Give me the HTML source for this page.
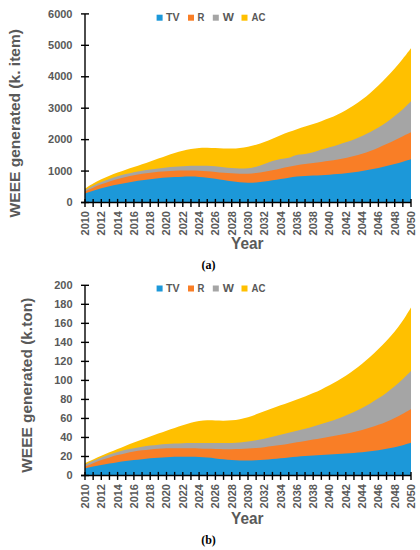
<!DOCTYPE html>
<html><head><meta charset="utf-8"><style>
html,body{margin:0;padding:0;background:#fff;width:420px;height:550px;overflow:hidden}
svg{display:block}
.tk{font-family:"Liberation Sans",sans-serif;font-size:11px;font-weight:bold;fill:#595959}
.ti2{font-family:"Liberation Sans",sans-serif;font-size:15.8px;font-weight:bold;fill:#595959}
.ti{font-family:"Liberation Sans",sans-serif;font-size:15.5px;font-weight:bold;fill:#595959}
.lg{font-family:"Liberation Sans",sans-serif;font-size:10px;font-weight:bold;fill:#595959}
.lt{font-family:"Liberation Serif",serif;font-size:12px;font-weight:bold;fill:#000}
</style></head><body>
<svg width="420" height="550" viewBox="0 0 420 550">
<path d="M85.00,202.5 L85.00,188.60 C86.36,187.75 90.43,185.08 93.15,183.53 C95.87,181.97 98.58,180.59 101.30,179.28 C104.02,177.97 106.73,176.80 109.45,175.68 C112.17,174.56 114.88,173.54 117.60,172.55 C120.32,171.56 123.03,170.64 125.75,169.72 C128.47,168.80 131.18,167.93 133.90,167.03 C136.62,166.12 139.33,165.22 142.05,164.29 C144.77,163.36 147.48,162.39 150.20,161.43 C152.92,160.47 155.63,159.48 158.35,158.53 C161.07,157.58 163.78,156.63 166.50,155.72 C169.22,154.82 171.93,153.93 174.65,153.11 C177.37,152.29 180.08,151.49 182.80,150.81 C185.52,150.12 188.23,149.47 190.95,148.99 C193.67,148.50 196.38,148.11 199.10,147.90 C201.82,147.69 204.53,147.69 207.25,147.72 C209.97,147.75 212.68,147.97 215.40,148.10 C218.12,148.24 220.83,148.46 223.55,148.53 C226.27,148.60 228.98,148.62 231.70,148.52 C234.42,148.42 237.13,148.22 239.85,147.91 C242.57,147.60 245.28,147.19 248.00,146.65 C250.72,146.12 253.43,145.47 256.15,144.70 C258.87,143.93 261.58,143.01 264.30,142.03 C267.02,141.04 269.73,139.90 272.45,138.79 C275.17,137.67 277.88,136.46 280.60,135.33 C283.32,134.20 286.03,133.05 288.75,132.02 C291.47,130.99 294.18,130.05 296.90,129.14 C299.62,128.23 302.33,127.42 305.05,126.56 C307.77,125.70 310.48,124.88 313.20,123.98 C315.92,123.08 318.63,122.17 321.35,121.18 C324.07,120.19 326.78,119.15 329.50,118.03 C332.22,116.90 334.93,115.71 337.65,114.40 C340.37,113.09 343.08,111.71 345.80,110.19 C348.52,108.66 351.23,107.04 353.95,105.26 C356.67,103.48 359.38,101.57 362.10,99.52 C364.82,97.46 367.53,95.27 370.25,92.94 C372.97,90.61 375.68,88.15 378.40,85.55 C381.12,82.96 383.83,80.23 386.55,77.37 C389.27,74.52 391.98,71.53 394.70,68.42 C397.42,65.30 400.13,62.06 402.85,58.70 C405.57,55.34 409.64,49.99 411.00,48.25 L411.00,202.5 Z" fill="#ffc000"/>
<path d="M85.00,202.5 L85.00,190.03 C86.36,189.32 90.43,187.07 93.15,185.74 C95.87,184.41 98.58,183.19 101.30,182.04 C104.02,180.90 106.73,179.86 109.45,178.90 C112.17,177.93 114.88,177.05 117.60,176.24 C120.32,175.43 123.03,174.70 125.75,174.02 C128.47,173.35 131.18,172.75 133.90,172.19 C136.62,171.63 139.33,171.14 142.05,170.68 C144.77,170.23 147.48,169.83 150.20,169.45 C152.92,169.08 155.63,168.75 158.35,168.44 C161.07,168.14 163.78,167.86 166.50,167.60 C169.22,167.34 171.93,167.10 174.65,166.87 C177.37,166.65 180.08,166.44 182.80,166.27 C185.52,166.10 188.23,165.96 190.95,165.86 C193.67,165.76 196.38,165.69 199.10,165.69 C201.82,165.69 204.53,165.72 207.25,165.83 C209.97,165.94 212.68,166.12 215.40,166.35 C218.12,166.57 220.83,166.91 223.55,167.20 C226.27,167.49 228.98,167.84 231.70,168.07 C234.42,168.29 237.13,168.51 239.85,168.54 C242.57,168.56 245.28,168.52 248.00,168.21 C250.72,167.90 253.43,167.40 256.15,166.69 C258.87,165.98 261.58,164.90 264.30,163.95 C267.02,163.00 269.73,161.82 272.45,160.98 C275.17,160.14 277.88,159.48 280.60,158.93 C283.32,158.37 286.03,158.32 288.75,157.65 C291.47,156.98 294.18,155.51 296.90,154.89 C299.62,154.28 302.33,154.40 305.05,153.97 C307.77,153.54 310.48,153.07 313.20,152.32 C315.92,151.58 318.63,150.36 321.35,149.50 C324.07,148.65 326.78,147.95 329.50,147.18 C332.22,146.42 334.93,145.71 337.65,144.91 C340.37,144.10 343.08,143.26 345.80,142.34 C348.52,141.42 351.23,140.45 353.95,139.39 C356.67,138.33 359.38,137.20 362.10,135.97 C364.82,134.74 367.53,133.44 370.25,132.01 C372.97,130.59 375.68,129.07 378.40,127.43 C381.12,125.78 383.83,124.03 386.55,122.14 C389.27,120.25 391.98,118.24 394.70,116.07 C397.42,113.91 400.13,111.61 402.85,109.14 C405.57,106.68 409.64,102.58 411.00,101.27 L411.00,202.5 Z" fill="#a5a5a5"/>
<path d="M85.00,202.5 L85.00,191.40 C86.36,190.77 90.43,188.81 93.15,187.63 C95.87,186.45 98.58,185.36 101.30,184.33 C104.02,183.30 106.73,182.36 109.45,181.47 C112.17,180.59 114.88,179.77 117.60,179.02 C120.32,178.26 123.03,177.58 125.75,176.94 C128.47,176.31 131.18,175.74 133.90,175.21 C136.62,174.69 139.33,174.23 142.05,173.80 C144.77,173.38 147.48,173.01 150.20,172.68 C152.92,172.35 155.63,172.06 158.35,171.81 C161.07,171.56 163.78,171.35 166.50,171.17 C169.22,170.99 171.93,170.84 174.65,170.73 C177.37,170.61 180.08,170.52 182.80,170.48 C185.52,170.43 188.23,170.42 190.95,170.45 C193.67,170.49 196.38,170.56 199.10,170.68 C201.82,170.80 204.53,170.97 207.25,171.17 C209.97,171.37 212.68,171.64 215.40,171.89 C218.12,172.14 220.83,172.43 223.55,172.67 C226.27,172.92 228.98,173.17 231.70,173.35 C234.42,173.53 237.13,173.69 239.85,173.74 C242.57,173.80 245.28,173.80 248.00,173.67 C250.72,173.55 253.43,173.31 256.15,173.00 C258.87,172.68 261.58,172.25 264.30,171.79 C267.02,171.32 269.73,170.77 272.45,170.22 C275.17,169.67 277.88,169.07 280.60,168.49 C283.32,167.92 286.03,167.32 288.75,166.78 C291.47,166.25 294.18,165.73 296.90,165.28 C299.62,164.82 302.33,164.44 305.05,164.06 C307.77,163.68 310.48,163.36 313.20,163.01 C315.92,162.67 318.63,162.35 321.35,161.99 C324.07,161.63 326.78,161.27 329.50,160.86 C332.22,160.45 334.93,160.01 337.65,159.52 C340.37,159.02 343.08,158.50 345.80,157.91 C348.52,157.32 351.23,156.68 353.95,155.97 C356.67,155.27 359.38,154.51 362.10,153.66 C364.82,152.82 367.53,151.91 370.25,150.92 C372.97,149.92 375.68,148.84 378.40,147.69 C381.12,146.54 383.83,145.29 386.55,144.03 C389.27,142.77 391.98,141.44 394.70,140.13 C397.42,138.81 400.13,137.46 402.85,136.16 C405.57,134.85 409.64,132.95 411.00,132.31 L411.00,202.5 Z" fill="#f97e26"/>
<path d="M85.00,202.5 L85.00,193.40 C86.36,192.95 90.43,191.55 93.15,190.71 C95.87,189.87 98.58,189.09 101.30,188.36 C104.02,187.63 106.73,186.95 109.45,186.31 C112.17,185.68 114.88,185.09 117.60,184.53 C120.32,183.97 123.03,183.45 125.75,182.96 C128.47,182.47 131.18,182.01 133.90,181.57 C136.62,181.13 139.33,180.71 142.05,180.31 C144.77,179.92 147.48,179.55 150.20,179.21 C152.92,178.87 155.63,178.55 158.35,178.27 C161.07,177.99 163.78,177.73 166.50,177.51 C169.22,177.29 171.93,177.10 174.65,176.95 C177.37,176.80 180.08,176.69 182.80,176.63 C185.52,176.57 188.23,176.55 190.95,176.60 C193.67,176.65 196.38,176.75 199.10,176.93 C201.82,177.10 204.53,177.35 207.25,177.66 C209.97,177.97 212.68,178.37 215.40,178.77 C218.12,179.17 220.83,179.63 223.55,180.05 C226.27,180.47 228.98,180.92 231.70,181.28 C234.42,181.64 237.13,182.00 239.85,182.23 C242.57,182.46 245.28,182.64 248.00,182.68 C250.72,182.72 253.43,182.62 256.15,182.44 C258.87,182.26 261.58,181.94 264.30,181.60 C267.02,181.25 269.73,180.80 272.45,180.37 C275.17,179.93 277.88,179.43 280.60,178.98 C283.32,178.53 286.03,178.05 288.75,177.65 C291.47,177.26 294.18,176.89 296.90,176.61 C299.62,176.33 302.33,176.14 305.05,175.96 C307.77,175.78 310.48,175.67 313.20,175.55 C315.92,175.42 318.63,175.33 321.35,175.20 C324.07,175.07 326.78,174.93 329.50,174.75 C332.22,174.57 334.93,174.36 337.65,174.12 C340.37,173.87 343.08,173.60 345.80,173.29 C348.52,172.98 351.23,172.64 353.95,172.26 C356.67,171.89 359.38,171.48 362.10,171.03 C364.82,170.59 367.53,170.11 370.25,169.60 C372.97,169.09 375.68,168.54 378.40,167.96 C381.12,167.38 383.83,166.76 386.55,166.11 C389.27,165.46 391.98,164.77 394.70,164.04 C397.42,163.32 400.13,162.55 402.85,161.75 C405.57,160.95 409.64,159.66 411.00,159.24 L411.00,202.5 Z" fill="#1c98d9"/>
<line x1="85.0" y1="13.9" x2="85.0" y2="202.5" stroke="#000" stroke-width="1.4"/>
<line x1="81.0" y1="202.5" x2="411.0" y2="202.5" stroke="#000" stroke-width="1.4"/>
<line x1="81.0" y1="202.50" x2="89.0" y2="202.50" stroke="#000" stroke-width="1.4"/>
<text x="72.5" y="206.10" text-anchor="end" class="tk">0</text>
<line x1="81.0" y1="171.07" x2="89.0" y2="171.07" stroke="#000" stroke-width="1.4"/>
<text x="72.5" y="174.67" text-anchor="end" class="tk">1000</text>
<line x1="81.0" y1="139.63" x2="89.0" y2="139.63" stroke="#000" stroke-width="1.4"/>
<text x="72.5" y="143.23" text-anchor="end" class="tk">2000</text>
<line x1="81.0" y1="108.20" x2="89.0" y2="108.20" stroke="#000" stroke-width="1.4"/>
<text x="72.5" y="111.80" text-anchor="end" class="tk">3000</text>
<line x1="81.0" y1="76.77" x2="89.0" y2="76.77" stroke="#000" stroke-width="1.4"/>
<text x="72.5" y="80.37" text-anchor="end" class="tk">4000</text>
<line x1="81.0" y1="45.33" x2="89.0" y2="45.33" stroke="#000" stroke-width="1.4"/>
<text x="72.5" y="48.93" text-anchor="end" class="tk">5000</text>
<line x1="81.0" y1="13.90" x2="89.0" y2="13.90" stroke="#000" stroke-width="1.4"/>
<text x="72.5" y="17.50" text-anchor="end" class="tk">6000</text>
<line x1="85.00" y1="198.9" x2="85.00" y2="206.9" stroke="#000" stroke-width="1.4"/>
<text transform="translate(88.90,211.0) rotate(-90)" text-anchor="end" class="tk">2010</text>
<line x1="93.15" y1="198.9" x2="93.15" y2="206.9" stroke="#000" stroke-width="1.4"/>
<line x1="101.30" y1="198.9" x2="101.30" y2="206.9" stroke="#000" stroke-width="1.4"/>
<text transform="translate(105.20,211.0) rotate(-90)" text-anchor="end" class="tk">2012</text>
<line x1="109.45" y1="198.9" x2="109.45" y2="206.9" stroke="#000" stroke-width="1.4"/>
<line x1="117.60" y1="198.9" x2="117.60" y2="206.9" stroke="#000" stroke-width="1.4"/>
<text transform="translate(121.50,211.0) rotate(-90)" text-anchor="end" class="tk">2014</text>
<line x1="125.75" y1="198.9" x2="125.75" y2="206.9" stroke="#000" stroke-width="1.4"/>
<line x1="133.90" y1="198.9" x2="133.90" y2="206.9" stroke="#000" stroke-width="1.4"/>
<text transform="translate(137.80,211.0) rotate(-90)" text-anchor="end" class="tk">2016</text>
<line x1="142.05" y1="198.9" x2="142.05" y2="206.9" stroke="#000" stroke-width="1.4"/>
<line x1="150.20" y1="198.9" x2="150.20" y2="206.9" stroke="#000" stroke-width="1.4"/>
<text transform="translate(154.10,211.0) rotate(-90)" text-anchor="end" class="tk">2018</text>
<line x1="158.35" y1="198.9" x2="158.35" y2="206.9" stroke="#000" stroke-width="1.4"/>
<line x1="166.50" y1="198.9" x2="166.50" y2="206.9" stroke="#000" stroke-width="1.4"/>
<text transform="translate(170.40,211.0) rotate(-90)" text-anchor="end" class="tk">2020</text>
<line x1="174.65" y1="198.9" x2="174.65" y2="206.9" stroke="#000" stroke-width="1.4"/>
<line x1="182.80" y1="198.9" x2="182.80" y2="206.9" stroke="#000" stroke-width="1.4"/>
<text transform="translate(186.70,211.0) rotate(-90)" text-anchor="end" class="tk">2022</text>
<line x1="190.95" y1="198.9" x2="190.95" y2="206.9" stroke="#000" stroke-width="1.4"/>
<line x1="199.10" y1="198.9" x2="199.10" y2="206.9" stroke="#000" stroke-width="1.4"/>
<text transform="translate(203.00,211.0) rotate(-90)" text-anchor="end" class="tk">2024</text>
<line x1="207.25" y1="198.9" x2="207.25" y2="206.9" stroke="#000" stroke-width="1.4"/>
<line x1="215.40" y1="198.9" x2="215.40" y2="206.9" stroke="#000" stroke-width="1.4"/>
<text transform="translate(219.30,211.0) rotate(-90)" text-anchor="end" class="tk">2026</text>
<line x1="223.55" y1="198.9" x2="223.55" y2="206.9" stroke="#000" stroke-width="1.4"/>
<line x1="231.70" y1="198.9" x2="231.70" y2="206.9" stroke="#000" stroke-width="1.4"/>
<text transform="translate(235.60,211.0) rotate(-90)" text-anchor="end" class="tk">2028</text>
<line x1="239.85" y1="198.9" x2="239.85" y2="206.9" stroke="#000" stroke-width="1.4"/>
<line x1="248.00" y1="198.9" x2="248.00" y2="206.9" stroke="#000" stroke-width="1.4"/>
<text transform="translate(251.90,211.0) rotate(-90)" text-anchor="end" class="tk">2030</text>
<line x1="256.15" y1="198.9" x2="256.15" y2="206.9" stroke="#000" stroke-width="1.4"/>
<line x1="264.30" y1="198.9" x2="264.30" y2="206.9" stroke="#000" stroke-width="1.4"/>
<text transform="translate(268.20,211.0) rotate(-90)" text-anchor="end" class="tk">2032</text>
<line x1="272.45" y1="198.9" x2="272.45" y2="206.9" stroke="#000" stroke-width="1.4"/>
<line x1="280.60" y1="198.9" x2="280.60" y2="206.9" stroke="#000" stroke-width="1.4"/>
<text transform="translate(284.50,211.0) rotate(-90)" text-anchor="end" class="tk">2034</text>
<line x1="288.75" y1="198.9" x2="288.75" y2="206.9" stroke="#000" stroke-width="1.4"/>
<line x1="296.90" y1="198.9" x2="296.90" y2="206.9" stroke="#000" stroke-width="1.4"/>
<text transform="translate(300.80,211.0) rotate(-90)" text-anchor="end" class="tk">2036</text>
<line x1="305.05" y1="198.9" x2="305.05" y2="206.9" stroke="#000" stroke-width="1.4"/>
<line x1="313.20" y1="198.9" x2="313.20" y2="206.9" stroke="#000" stroke-width="1.4"/>
<text transform="translate(317.10,211.0) rotate(-90)" text-anchor="end" class="tk">2038</text>
<line x1="321.35" y1="198.9" x2="321.35" y2="206.9" stroke="#000" stroke-width="1.4"/>
<line x1="329.50" y1="198.9" x2="329.50" y2="206.9" stroke="#000" stroke-width="1.4"/>
<text transform="translate(333.40,211.0) rotate(-90)" text-anchor="end" class="tk">2040</text>
<line x1="337.65" y1="198.9" x2="337.65" y2="206.9" stroke="#000" stroke-width="1.4"/>
<line x1="345.80" y1="198.9" x2="345.80" y2="206.9" stroke="#000" stroke-width="1.4"/>
<text transform="translate(349.70,211.0) rotate(-90)" text-anchor="end" class="tk">2042</text>
<line x1="353.95" y1="198.9" x2="353.95" y2="206.9" stroke="#000" stroke-width="1.4"/>
<line x1="362.10" y1="198.9" x2="362.10" y2="206.9" stroke="#000" stroke-width="1.4"/>
<text transform="translate(366.00,211.0) rotate(-90)" text-anchor="end" class="tk">2044</text>
<line x1="370.25" y1="198.9" x2="370.25" y2="206.9" stroke="#000" stroke-width="1.4"/>
<line x1="378.40" y1="198.9" x2="378.40" y2="206.9" stroke="#000" stroke-width="1.4"/>
<text transform="translate(382.30,211.0) rotate(-90)" text-anchor="end" class="tk">2046</text>
<line x1="386.55" y1="198.9" x2="386.55" y2="206.9" stroke="#000" stroke-width="1.4"/>
<line x1="394.70" y1="198.9" x2="394.70" y2="206.9" stroke="#000" stroke-width="1.4"/>
<text transform="translate(398.60,211.0) rotate(-90)" text-anchor="end" class="tk">2048</text>
<line x1="402.85" y1="198.9" x2="402.85" y2="206.9" stroke="#000" stroke-width="1.4"/>
<line x1="411.00" y1="198.9" x2="411.00" y2="206.9" stroke="#000" stroke-width="1.4"/>
<text transform="translate(414.90,211.0) rotate(-90)" text-anchor="end" class="tk">2050</text>
<text x="231.1" y="248.8" class="ti2" textLength="32.5" lengthAdjust="spacingAndGlyphs">Year</text>
<text transform="translate(20.2,217.4) rotate(-90)" class="ti" textLength="188.4" lengthAdjust="spacingAndGlyphs">WEEE generated (k. item)</text>
<rect x="156.6" y="14.7" width="6" height="6" fill="#1c98d9"/>
<text x="166.0" y="20.9" class="lg" textLength="13.6" lengthAdjust="spacingAndGlyphs">TV</text>
<rect x="188" y="14.7" width="6" height="6" fill="#f97e26"/>
<text x="197.4" y="20.9" class="lg" textLength="6.9" lengthAdjust="spacingAndGlyphs">R</text>
<rect x="212.8" y="14.7" width="6" height="6" fill="#a5a5a5"/>
<text x="222.8" y="20.9" class="lg" textLength="11.2" lengthAdjust="spacingAndGlyphs">W</text>
<rect x="241.5" y="14.7" width="6" height="6" fill="#ffc000"/>
<text x="251.4" y="20.9" class="lg" textLength="14.0" lengthAdjust="spacingAndGlyphs">AC</text>
<text x="208.5" y="269" text-anchor="middle" class="lt">(a)</text>
<path d="M85.00,475.5 L85.00,462.99 C86.36,462.39 90.43,460.58 93.15,459.39 C95.87,458.19 98.58,457.01 101.30,455.84 C104.02,454.67 106.73,453.51 109.45,452.36 C112.17,451.22 114.88,450.09 117.60,448.97 C120.32,447.86 123.03,446.75 125.75,445.67 C128.47,444.59 131.18,443.52 133.90,442.48 C136.62,441.43 139.33,440.40 142.05,439.40 C144.77,438.39 147.48,437.40 150.20,436.43 C152.92,435.46 155.63,434.51 158.35,433.56 C161.07,432.61 163.78,431.68 166.50,430.76 C169.22,429.83 171.93,428.91 174.65,428.00 C177.37,427.08 180.08,426.14 182.80,425.27 C185.52,424.39 188.23,423.47 190.95,422.75 C193.67,422.04 196.38,421.38 199.10,420.98 C201.82,420.58 204.53,420.44 207.25,420.36 C209.97,420.28 212.68,420.43 215.40,420.49 C218.12,420.54 220.83,420.71 223.55,420.68 C226.27,420.66 228.98,420.58 231.70,420.33 C234.42,420.09 237.13,419.72 239.85,419.20 C242.57,418.67 245.28,418.01 248.00,417.20 C250.72,416.39 253.43,415.33 256.15,414.33 C258.87,413.33 261.58,412.22 264.30,411.21 C267.02,410.19 269.73,409.21 272.45,408.23 C275.17,407.25 277.88,406.30 280.60,405.34 C283.32,404.38 286.03,403.43 288.75,402.46 C291.47,401.49 294.18,400.52 296.90,399.51 C299.62,398.50 302.33,397.48 305.05,396.40 C307.77,395.33 310.48,394.23 313.20,393.06 C315.92,391.90 318.63,390.70 321.35,389.41 C324.07,388.13 326.78,386.80 329.50,385.37 C332.22,383.95 334.93,382.45 337.65,380.86 C340.37,379.26 343.08,377.58 345.80,375.79 C348.52,374.00 351.23,372.11 353.95,370.09 C356.67,368.08 359.38,365.94 362.10,363.70 C364.82,361.46 367.53,359.11 370.25,356.66 C372.97,354.22 375.68,351.68 378.40,349.03 C381.12,346.37 383.83,343.65 386.55,340.71 C389.27,337.78 391.98,334.78 394.70,331.42 C397.42,328.05 400.13,324.53 402.85,320.53 C405.57,316.54 409.64,309.62 411.00,307.44 L411.00,475.5 Z" fill="#ffc000"/>
<path d="M85.00,475.5 L85.00,464.85 C86.36,464.18 90.43,462.10 93.15,460.87 C95.87,459.63 98.58,458.49 101.30,457.42 C104.02,456.35 106.73,455.37 109.45,454.46 C112.17,453.55 114.88,452.73 117.60,451.96 C120.32,451.19 123.03,450.50 125.75,449.86 C128.47,449.22 131.18,448.65 133.90,448.13 C136.62,447.61 139.33,447.14 142.05,446.72 C144.77,446.30 147.48,445.93 150.20,445.59 C152.92,445.26 155.63,444.97 158.35,444.70 C161.07,444.44 163.78,444.21 166.50,444.01 C169.22,443.81 171.93,443.64 174.65,443.50 C177.37,443.35 180.08,443.24 182.80,443.15 C185.52,443.06 188.23,443.00 190.95,442.95 C193.67,442.91 196.38,442.90 199.10,442.90 C201.82,442.90 204.53,442.94 207.25,442.96 C209.97,442.99 212.68,443.04 215.40,443.06 C218.12,443.08 220.83,443.10 223.55,443.08 C226.27,443.05 228.98,443.01 231.70,442.91 C234.42,442.80 237.13,442.66 239.85,442.44 C242.57,442.22 245.28,441.93 248.00,441.57 C250.72,441.21 253.43,440.77 256.15,440.28 C258.87,439.80 261.58,439.24 264.30,438.66 C267.02,438.09 269.73,437.46 272.45,436.82 C275.17,436.19 277.88,435.53 280.60,434.87 C283.32,434.21 286.03,433.55 288.75,432.87 C291.47,432.20 294.18,431.52 296.90,430.83 C299.62,430.13 302.33,429.43 305.05,428.70 C307.77,427.98 310.48,427.24 313.20,426.47 C315.92,425.69 318.63,424.91 321.35,424.08 C324.07,423.25 326.78,422.40 329.50,421.50 C332.22,420.59 334.93,419.66 337.65,418.65 C340.37,417.65 343.08,416.61 345.80,415.49 C348.52,414.37 351.23,413.20 353.95,411.94 C356.67,410.68 359.38,409.36 362.10,407.94 C364.82,406.52 367.53,405.03 370.25,403.44 C372.97,401.84 375.68,400.16 378.40,398.36 C381.12,396.56 383.83,394.67 386.55,392.65 C389.27,390.64 391.98,388.51 394.70,386.25 C397.42,383.99 400.13,381.62 402.85,379.10 C405.57,376.57 409.64,372.45 411.00,371.12 L411.00,475.5 Z" fill="#a5a5a5"/>
<path d="M85.00,475.5 L85.00,466.67 C86.36,466.09 90.43,464.27 93.15,463.18 C95.87,462.08 98.58,461.06 101.30,460.10 C104.02,459.14 106.73,458.25 109.45,457.42 C112.17,456.59 114.88,455.83 117.60,455.12 C120.32,454.42 123.03,453.77 125.75,453.19 C128.47,452.60 131.18,452.07 133.90,451.59 C136.62,451.12 139.33,450.70 142.05,450.33 C144.77,449.96 147.48,449.65 150.20,449.38 C152.92,449.11 155.63,448.89 158.35,448.71 C161.07,448.54 163.78,448.41 166.50,448.32 C169.22,448.23 171.93,448.18 174.65,448.16 C177.37,448.13 180.08,448.15 182.80,448.17 C185.52,448.20 188.23,448.26 190.95,448.32 C193.67,448.38 196.38,448.46 199.10,448.53 C201.82,448.61 204.53,448.70 207.25,448.78 C209.97,448.86 212.68,448.94 215.40,449.00 C218.12,449.06 220.83,449.12 223.55,449.14 C226.27,449.17 228.98,449.18 231.70,449.16 C234.42,449.14 237.13,449.09 239.85,449.00 C242.57,448.91 245.28,448.78 248.00,448.61 C250.72,448.44 253.43,448.22 256.15,447.98 C258.87,447.73 261.58,447.44 264.30,447.13 C267.02,446.82 269.73,446.47 272.45,446.11 C275.17,445.74 277.88,445.35 280.60,444.94 C283.32,444.53 286.03,444.10 288.75,443.66 C291.47,443.23 294.18,442.77 296.90,442.31 C299.62,441.86 302.33,441.39 305.05,440.92 C307.77,440.46 310.48,439.99 313.20,439.53 C315.92,439.07 318.63,438.62 321.35,438.16 C324.07,437.70 326.78,437.25 329.50,436.78 C332.22,436.31 334.93,435.83 337.65,435.33 C340.37,434.82 343.08,434.30 345.80,433.74 C348.52,433.18 351.23,432.60 353.95,431.96 C356.67,431.33 359.38,430.66 362.10,429.93 C364.82,429.20 367.53,428.43 370.25,427.59 C372.97,426.74 375.68,425.85 378.40,424.86 C381.12,423.88 383.83,422.84 386.55,421.70 C389.27,420.57 391.98,419.36 394.70,418.05 C397.42,416.73 400.13,415.34 402.85,413.83 C405.57,412.32 409.64,409.79 411.00,408.99 L411.00,475.5 Z" fill="#f97e26"/>
<path d="M85.00,475.5 L85.00,468.29 C86.36,468.00 90.43,467.12 93.15,466.57 C95.87,466.02 98.58,465.50 101.30,464.99 C104.02,464.49 106.73,464.01 109.45,463.55 C112.17,463.10 114.88,462.66 117.60,462.25 C120.32,461.83 123.03,461.44 125.75,461.08 C128.47,460.71 131.18,460.36 133.90,460.04 C136.62,459.71 139.33,459.41 142.05,459.13 C144.77,458.85 147.48,458.59 150.20,458.35 C152.92,458.12 155.63,457.90 158.35,457.71 C161.07,457.51 163.78,457.34 166.50,457.19 C169.22,457.05 171.93,456.92 174.65,456.83 C177.37,456.74 180.08,456.68 182.80,456.66 C185.52,456.64 188.23,456.65 190.95,456.72 C193.67,456.78 196.38,456.88 199.10,457.03 C201.82,457.18 204.53,457.39 207.25,457.62 C209.97,457.84 212.68,458.12 215.40,458.38 C218.12,458.64 220.83,458.93 223.55,459.19 C226.27,459.44 228.98,459.70 231.70,459.91 C234.42,460.11 237.13,460.30 239.85,460.40 C242.57,460.51 245.28,460.56 248.00,460.54 C250.72,460.52 253.43,460.42 256.15,460.28 C258.87,460.15 261.58,459.95 264.30,459.74 C267.02,459.53 269.73,459.27 272.45,459.01 C275.17,458.76 277.88,458.48 280.60,458.21 C283.32,457.95 286.03,457.69 288.75,457.44 C291.47,457.19 294.18,456.94 296.90,456.71 C299.62,456.48 302.33,456.25 305.05,456.04 C307.77,455.83 310.48,455.63 313.20,455.44 C315.92,455.25 318.63,455.08 321.35,454.92 C324.07,454.75 326.78,454.61 329.50,454.45 C332.22,454.30 334.93,454.15 337.65,453.99 C340.37,453.83 343.08,453.67 345.80,453.49 C348.52,453.31 351.23,453.13 353.95,452.91 C356.67,452.69 359.38,452.47 362.10,452.20 C364.82,451.93 367.53,451.65 370.25,451.32 C372.97,450.99 375.68,450.63 378.40,450.21 C381.12,449.80 383.83,449.36 386.55,448.85 C389.27,448.34 391.98,447.79 394.70,447.18 C397.42,446.56 400.13,445.89 402.85,445.15 C405.57,444.41 409.64,443.13 411.00,442.72 L411.00,475.5 Z" fill="#1c98d9"/>
<line x1="85.0" y1="285.3" x2="85.0" y2="475.5" stroke="#000" stroke-width="1.4"/>
<line x1="81.0" y1="475.5" x2="411.0" y2="475.5" stroke="#000" stroke-width="1.4"/>
<line x1="81.0" y1="475.50" x2="89.0" y2="475.50" stroke="#000" stroke-width="1.4"/>
<text x="72.5" y="479.10" text-anchor="end" class="tk">0</text>
<line x1="81.0" y1="456.48" x2="89.0" y2="456.48" stroke="#000" stroke-width="1.4"/>
<text x="72.5" y="460.08" text-anchor="end" class="tk">20</text>
<line x1="81.0" y1="437.46" x2="89.0" y2="437.46" stroke="#000" stroke-width="1.4"/>
<text x="72.5" y="441.06" text-anchor="end" class="tk">40</text>
<line x1="81.0" y1="418.44" x2="89.0" y2="418.44" stroke="#000" stroke-width="1.4"/>
<text x="72.5" y="422.04" text-anchor="end" class="tk">60</text>
<line x1="81.0" y1="399.42" x2="89.0" y2="399.42" stroke="#000" stroke-width="1.4"/>
<text x="72.5" y="403.02" text-anchor="end" class="tk">80</text>
<line x1="81.0" y1="380.40" x2="89.0" y2="380.40" stroke="#000" stroke-width="1.4"/>
<text x="72.5" y="384.00" text-anchor="end" class="tk">100</text>
<line x1="81.0" y1="361.38" x2="89.0" y2="361.38" stroke="#000" stroke-width="1.4"/>
<text x="72.5" y="364.98" text-anchor="end" class="tk">120</text>
<line x1="81.0" y1="342.36" x2="89.0" y2="342.36" stroke="#000" stroke-width="1.4"/>
<text x="72.5" y="345.96" text-anchor="end" class="tk">140</text>
<line x1="81.0" y1="323.34" x2="89.0" y2="323.34" stroke="#000" stroke-width="1.4"/>
<text x="72.5" y="326.94" text-anchor="end" class="tk">160</text>
<line x1="81.0" y1="304.32" x2="89.0" y2="304.32" stroke="#000" stroke-width="1.4"/>
<text x="72.5" y="307.92" text-anchor="end" class="tk">180</text>
<line x1="81.0" y1="285.30" x2="89.0" y2="285.30" stroke="#000" stroke-width="1.4"/>
<text x="72.5" y="288.90" text-anchor="end" class="tk">200</text>
<line x1="85.00" y1="471.9" x2="85.00" y2="479.9" stroke="#000" stroke-width="1.4"/>
<text transform="translate(88.90,484.0) rotate(-90)" text-anchor="end" class="tk">2010</text>
<line x1="93.15" y1="471.9" x2="93.15" y2="479.9" stroke="#000" stroke-width="1.4"/>
<line x1="101.30" y1="471.9" x2="101.30" y2="479.9" stroke="#000" stroke-width="1.4"/>
<text transform="translate(105.20,484.0) rotate(-90)" text-anchor="end" class="tk">2012</text>
<line x1="109.45" y1="471.9" x2="109.45" y2="479.9" stroke="#000" stroke-width="1.4"/>
<line x1="117.60" y1="471.9" x2="117.60" y2="479.9" stroke="#000" stroke-width="1.4"/>
<text transform="translate(121.50,484.0) rotate(-90)" text-anchor="end" class="tk">2014</text>
<line x1="125.75" y1="471.9" x2="125.75" y2="479.9" stroke="#000" stroke-width="1.4"/>
<line x1="133.90" y1="471.9" x2="133.90" y2="479.9" stroke="#000" stroke-width="1.4"/>
<text transform="translate(137.80,484.0) rotate(-90)" text-anchor="end" class="tk">2016</text>
<line x1="142.05" y1="471.9" x2="142.05" y2="479.9" stroke="#000" stroke-width="1.4"/>
<line x1="150.20" y1="471.9" x2="150.20" y2="479.9" stroke="#000" stroke-width="1.4"/>
<text transform="translate(154.10,484.0) rotate(-90)" text-anchor="end" class="tk">2018</text>
<line x1="158.35" y1="471.9" x2="158.35" y2="479.9" stroke="#000" stroke-width="1.4"/>
<line x1="166.50" y1="471.9" x2="166.50" y2="479.9" stroke="#000" stroke-width="1.4"/>
<text transform="translate(170.40,484.0) rotate(-90)" text-anchor="end" class="tk">2020</text>
<line x1="174.65" y1="471.9" x2="174.65" y2="479.9" stroke="#000" stroke-width="1.4"/>
<line x1="182.80" y1="471.9" x2="182.80" y2="479.9" stroke="#000" stroke-width="1.4"/>
<text transform="translate(186.70,484.0) rotate(-90)" text-anchor="end" class="tk">2022</text>
<line x1="190.95" y1="471.9" x2="190.95" y2="479.9" stroke="#000" stroke-width="1.4"/>
<line x1="199.10" y1="471.9" x2="199.10" y2="479.9" stroke="#000" stroke-width="1.4"/>
<text transform="translate(203.00,484.0) rotate(-90)" text-anchor="end" class="tk">2024</text>
<line x1="207.25" y1="471.9" x2="207.25" y2="479.9" stroke="#000" stroke-width="1.4"/>
<line x1="215.40" y1="471.9" x2="215.40" y2="479.9" stroke="#000" stroke-width="1.4"/>
<text transform="translate(219.30,484.0) rotate(-90)" text-anchor="end" class="tk">2026</text>
<line x1="223.55" y1="471.9" x2="223.55" y2="479.9" stroke="#000" stroke-width="1.4"/>
<line x1="231.70" y1="471.9" x2="231.70" y2="479.9" stroke="#000" stroke-width="1.4"/>
<text transform="translate(235.60,484.0) rotate(-90)" text-anchor="end" class="tk">2028</text>
<line x1="239.85" y1="471.9" x2="239.85" y2="479.9" stroke="#000" stroke-width="1.4"/>
<line x1="248.00" y1="471.9" x2="248.00" y2="479.9" stroke="#000" stroke-width="1.4"/>
<text transform="translate(251.90,484.0) rotate(-90)" text-anchor="end" class="tk">2030</text>
<line x1="256.15" y1="471.9" x2="256.15" y2="479.9" stroke="#000" stroke-width="1.4"/>
<line x1="264.30" y1="471.9" x2="264.30" y2="479.9" stroke="#000" stroke-width="1.4"/>
<text transform="translate(268.20,484.0) rotate(-90)" text-anchor="end" class="tk">2032</text>
<line x1="272.45" y1="471.9" x2="272.45" y2="479.9" stroke="#000" stroke-width="1.4"/>
<line x1="280.60" y1="471.9" x2="280.60" y2="479.9" stroke="#000" stroke-width="1.4"/>
<text transform="translate(284.50,484.0) rotate(-90)" text-anchor="end" class="tk">2034</text>
<line x1="288.75" y1="471.9" x2="288.75" y2="479.9" stroke="#000" stroke-width="1.4"/>
<line x1="296.90" y1="471.9" x2="296.90" y2="479.9" stroke="#000" stroke-width="1.4"/>
<text transform="translate(300.80,484.0) rotate(-90)" text-anchor="end" class="tk">2036</text>
<line x1="305.05" y1="471.9" x2="305.05" y2="479.9" stroke="#000" stroke-width="1.4"/>
<line x1="313.20" y1="471.9" x2="313.20" y2="479.9" stroke="#000" stroke-width="1.4"/>
<text transform="translate(317.10,484.0) rotate(-90)" text-anchor="end" class="tk">2038</text>
<line x1="321.35" y1="471.9" x2="321.35" y2="479.9" stroke="#000" stroke-width="1.4"/>
<line x1="329.50" y1="471.9" x2="329.50" y2="479.9" stroke="#000" stroke-width="1.4"/>
<text transform="translate(333.40,484.0) rotate(-90)" text-anchor="end" class="tk">2040</text>
<line x1="337.65" y1="471.9" x2="337.65" y2="479.9" stroke="#000" stroke-width="1.4"/>
<line x1="345.80" y1="471.9" x2="345.80" y2="479.9" stroke="#000" stroke-width="1.4"/>
<text transform="translate(349.70,484.0) rotate(-90)" text-anchor="end" class="tk">2042</text>
<line x1="353.95" y1="471.9" x2="353.95" y2="479.9" stroke="#000" stroke-width="1.4"/>
<line x1="362.10" y1="471.9" x2="362.10" y2="479.9" stroke="#000" stroke-width="1.4"/>
<text transform="translate(366.00,484.0) rotate(-90)" text-anchor="end" class="tk">2044</text>
<line x1="370.25" y1="471.9" x2="370.25" y2="479.9" stroke="#000" stroke-width="1.4"/>
<line x1="378.40" y1="471.9" x2="378.40" y2="479.9" stroke="#000" stroke-width="1.4"/>
<text transform="translate(382.30,484.0) rotate(-90)" text-anchor="end" class="tk">2046</text>
<line x1="386.55" y1="471.9" x2="386.55" y2="479.9" stroke="#000" stroke-width="1.4"/>
<line x1="394.70" y1="471.9" x2="394.70" y2="479.9" stroke="#000" stroke-width="1.4"/>
<text transform="translate(398.60,484.0) rotate(-90)" text-anchor="end" class="tk">2048</text>
<line x1="402.85" y1="471.9" x2="402.85" y2="479.9" stroke="#000" stroke-width="1.4"/>
<line x1="411.00" y1="471.9" x2="411.00" y2="479.9" stroke="#000" stroke-width="1.4"/>
<text transform="translate(414.90,484.0) rotate(-90)" text-anchor="end" class="tk">2050</text>
<text x="231.1" y="523.9" class="ti2" textLength="32.5" lengthAdjust="spacingAndGlyphs">Year</text>
<text transform="translate(31.7,472.7) rotate(-90)" class="ti" textLength="175" lengthAdjust="spacingAndGlyphs">WEEE generated (k.ton)</text>
<rect x="156.6" y="285.5" width="6" height="6" fill="#1c98d9"/>
<text x="166.0" y="291.7" class="lg" textLength="13.6" lengthAdjust="spacingAndGlyphs">TV</text>
<rect x="188" y="285.5" width="6" height="6" fill="#f97e26"/>
<text x="197.4" y="291.7" class="lg" textLength="6.9" lengthAdjust="spacingAndGlyphs">R</text>
<rect x="212.8" y="285.5" width="6" height="6" fill="#a5a5a5"/>
<text x="222.8" y="291.7" class="lg" textLength="11.2" lengthAdjust="spacingAndGlyphs">W</text>
<rect x="241.5" y="285.5" width="6" height="6" fill="#ffc000"/>
<text x="251.4" y="291.7" class="lg" textLength="14.0" lengthAdjust="spacingAndGlyphs">AC</text>
<text x="208.5" y="544" text-anchor="middle" class="lt">(b)</text>
</svg>
</body></html>
